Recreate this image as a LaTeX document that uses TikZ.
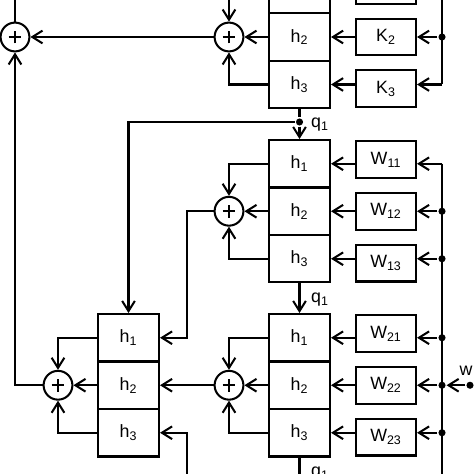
\documentclass[tikz,border=0pt]{standalone}
\usepackage{fontspec}
\setmainfont{Liberation Sans}
\usetikzlibrary{arrows.meta}

\begin{document}
\begin{tikzpicture}[x=0.59pt,y=-0.59pt,line width=1.2pt,font=\fontsize{10.5}{12}\selectfont]
% Estilos
\tikzset{h box/.style={rectangle,draw,minimum width=36pt,minimum height=28pt,inner sep=0pt},
  w box/.style={rectangle,draw,minimum width=35.4pt,minimum height=21.8pt,inner sep=0pt},
  sum/.style={circle,draw,minimum size=17pt,inner sep=0pt,
    path picture={\draw[line width=1pt] ([xshift=-3.7pt]path picture bounding box.center) -- ([xshift=3.7pt]path picture bounding box.center)
      ([yshift=-3.7pt]path picture bounding box.center) -- ([yshift=3.7pt]path picture bounding box.center);}},
  black dot/.style={circle,fill=black,minimum size=4.2pt,inner sep=0pt},
  >={Straight Barb[length=6pt,width=7.5pt]}}

\useasboundingbox (0,0) rectangle (474,474);
\clip (0,0) rectangle (474,474);

% Bloque superior
  \node[h box] (t1) at (299.5,-10.5) {};
  \node[h box] (t2) at (299.5,37) {h\textsubscript{2}};
  \node[h box] (t3) at (299.5,84.5) {h\textsubscript{3}};
  \node[w box,anchor=north] (k1) at (386,-34.25) {};
  \node[w box] (k2) at (386,37) {K\textsubscript{2}};
  \node[w box,anchor=south] (k3) at (386,108.25) {K\textsubscript{3}};
  \node[sum] (st) at (229,37) {};
  \node[sum] (s0) at (15,37) {};
  \coordinate (bt) at (442,-40);
  \node[black dot] (bt1) at (442,-10.5) {};
  \node[black dot] (bt2) at (442,37) {};
  \coordinate (bt3) at (442,84.5);
  \coordinate (out) at (15,-20);

% Bloque medio
  \node[h box] (m1) at (299.5,163.75) {h\textsubscript{1}};
  \node[h box] (m2) at (299.5,211.25) {h\textsubscript{2}};
  \node[h box] (m3) at (299.5,258.75) {h\textsubscript{3}};
  \node[w box,anchor=north] (w11) at (386,140) {W\textsubscript{11}};
  \node[w box] (w12) at (386,211.25) {W\textsubscript{12}};
  \node[w box,anchor=south] (w13) at (386,282.5) {W\textsubscript{13}};
  \node[sum] (sm) at (229,211.25) {};
  \coordinate (bm1) at (442,163.75);
  \node[black dot] (bm2) at (442,211.25) {};
  \node[black dot] (bm3) at (442,258.75) {};

% Bloque inferior derecho
  \node[h box] (r1) at (299.5,337.75) {h\textsubscript{1}};
  \node[h box] (r2) at (299.5,385.25) {h\textsubscript{2}};
  \node[h box] (r3) at (299.5,432.75) {h\textsubscript{3}};
  \node[w box,anchor=north] (w21) at (386,314) {W\textsubscript{21}};
  \node[w box] (w22) at (386,385.25) {W\textsubscript{22}};
  \node[w box,anchor=south] (w23) at (386,456.5) {W\textsubscript{23}};
  \node[sum] (sr) at (229,385.25) {};
  \node[black dot] (br1) at (442,337.75) {};
  \node[black dot] (br2) at (442,385.25) {};
  \node[black dot] (br3) at (442,432.75) {};
  \coordinate (bb) at (442,490);
  \node[black dot] (win) at (470,385.25) {};
  \node (lw) at (466,371) {w};

% Bloque inferior izquierdo
  \node[h box] (l1) at (128.5,337.75) {h\textsubscript{1}};
  \node[h box] (l2) at (128.5,385.25) {h\textsubscript{2}};
  \node[h box] (l3) at (128.5,432.75) {h\textsubscript{3}};
  \node[sum] (sl) at (58,385.25) {};
  \coordinate (c1) at (187,211.25);
  \coordinate (c3) at (187,490);

% q_1
  \node[black dot] (q1) at (299.5,122) {};
  \node (lq1) at (320,125) {q\textsubscript{1}};
  \node (lq2) at (320,300) {q\textsubscript{1}};
  \node (lq3) at (320,474) {q\textsubscript{1}};
  \coordinate (q3) at (299.5,490);

% Lineas
\draw (bt) -- (bt3) (bm1) -- (bb) (s0.north) -- (out) (t3.south) -- (q1) (r3.south) -- (q3);
\draw[->] (bt1) -- (k1.east |- bt1);
\draw[->] (bt2) -- (k2.east);
\draw[->] (bt3) -- (k3.east |- bt3);
\draw[->] (k1.west |- t1) -- (t1.east);
\draw[->] (k2.west) -- (t2.east);
\draw[->] (k3.west |- t3) -- (t3.east);
\draw[->] (t1.west) -| (st.north);
\draw[->] (t2.west) -- (st.east);
\draw[->] (t3.west) -| (st.south);
\draw[->] (st.west) -- (s0.east);

\draw[->] (q1) -- (m1.north);
\draw[->] (q1) -| (l1.north);
\draw[->] (bm1) -- (w11.east |- bm1);
\draw[->] (bm2) -- (w12.east);
\draw[->] (bm3) -- (w13.east |- bm3);
\draw[->] (w11.west |- m1) -- (m1.east);
\draw[->] (w12.west) -- (m2.east);
\draw[->] (w13.west |- m3) -- (m3.east);
\draw[->] (m1.west) -| (sm.north);
\draw[->] (m2.west) -- (sm.east);
\draw[->] (m3.west) -| (sm.south);
\draw[->] (sm.west) -- (c1) |- (l1.east);

\draw[->] (m3.south) -- (r1.north);
\draw[->] (br1) -- (w21.east |- br1);
\draw[->] (br2) -- (w22.east);
\draw[->] (br3) -- (w23.east |- br3);
\draw[->] (win) -- (br2);
\draw[->] (w21.west |- r1) -- (r1.east);
\draw[->] (w22.west) -- (r2.east);
\draw[->] (w23.west |- r3) -- (r3.east);
\draw[->] (r1.west) -| (sr.north);
\draw[->] (r2.west) -- (sr.east);
\draw[->] (r3.west) -| (sr.south);
\draw[->] (sr.west) -- (l2.east);

\draw[->] (c3) |- (l3.east);
\draw[->] (l1.west) -| (sl.north);
\draw[->] (l2.west) -- (sl.east);
\draw[->] (l3.west) -| (sl.south);
\draw[->] (sl.west) -| (s0.south);

\end{tikzpicture}
\end{document}
